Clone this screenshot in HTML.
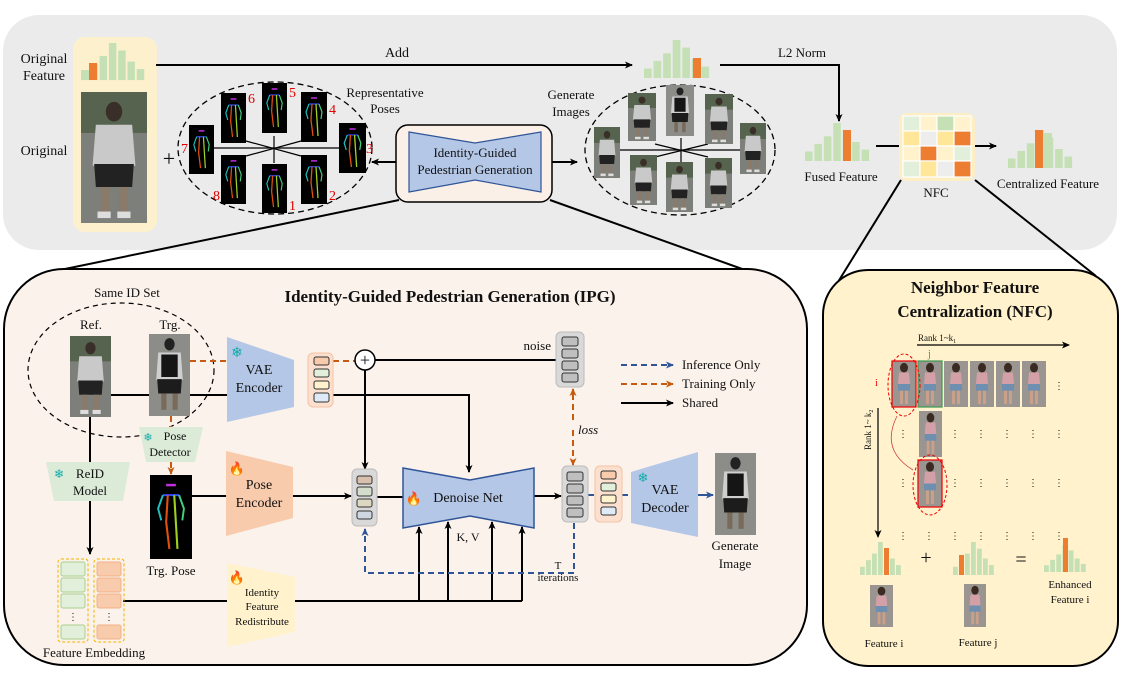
<!DOCTYPE html>
<html><head><meta charset="utf-8"><style>
html,body{margin:0;padding:0;background:#fff;}
svg{display:block;}
text{font-family:"Liberation Serif",serif;fill:#111;}
</style></head><body>
<svg width="1123" height="695" viewBox="0 0 1123 695" xmlns="http://www.w3.org/2000/svg">
<defs>
<marker id="ab" markerWidth="8" markerHeight="8" refX="7" refY="4" orient="auto" markerUnits="userSpaceOnUse"><path d="M0,0.5 L8,4 L0,7.5 L2,4 z" fill="#000"/></marker>
<marker id="ao" markerWidth="8" markerHeight="8" refX="7" refY="4" orient="auto" markerUnits="userSpaceOnUse"><path d="M0,0.5 L8,4 L0,7.5 L2,4 z" fill="#c55a11"/></marker>
<marker id="au" markerWidth="8" markerHeight="8" refX="7" refY="4" orient="auto" markerUnits="userSpaceOnUse"><path d="M0,0.5 L8,4 L0,7.5 L2,4 z" fill="#2f5597"/></marker>
<symbol id="man" viewBox="0 0 40 80" preserveAspectRatio="none">
<rect width="40" height="80" fill="#7d7f7a"/><rect width="40" height="25" fill="#56634e"/>
<ellipse cx="20" cy="12" rx="5" ry="6" fill="#3a2e28"/>
<path d="M9,20 L31,20 L33,45 L7,45z" fill="#c9c9c9"/>
<path d="M8,44 L32,44 L31,58 L9,58z" fill="#222"/>
<rect x="12" y="58" width="5" height="16" fill="#8a7a6a"/><rect x="23" y="58" width="5" height="16" fill="#8a7a6a"/>
<rect x="10" y="73" width="8" height="4" fill="#ddd"/><rect x="22" y="73" width="8" height="4" fill="#ddd"/>
</symbol>
<symbol id="back" viewBox="0 0 40 80" preserveAspectRatio="none">
<rect width="40" height="80" fill="#8c8c88"/>
<ellipse cx="20" cy="10" rx="5" ry="6" fill="#222"/>
<path d="M9,18 L31,18 L33,45 L7,45z" fill="#cfcfcf"/><path d="M12,20 L28,20 L28,42 L12,42z" fill="#151515"/>
<path d="M8,44 L32,44 L31,58 L9,58z" fill="#1c1c1c"/>
<rect x="12" y="58" width="5" height="16" fill="#7a6a5a"/><rect x="23" y="58" width="5" height="16" fill="#7a6a5a"/>
</symbol>
<symbol id="girl" viewBox="0 0 24 48" preserveAspectRatio="none">
<rect width="24" height="48" fill="#9a9590"/>
<ellipse cx="12" cy="7" rx="4" ry="5" fill="#3a2a22"/>
<path d="M7,12 L17,12 L18,24 L6,24z" fill="#d4a0a8"/>
<path d="M6,24 L18,24 L18,31 L6,31z" fill="#6f8fb0"/>
<rect x="8" y="31" width="3" height="14" fill="#c9a08a"/><rect x="13" y="31" width="3" height="14" fill="#c9a08a"/>
</symbol>
<symbol id="pose" viewBox="0 0 26 50" preserveAspectRatio="none">
<rect width="26" height="50" fill="#000"/>
<path d="M10,6 L16,6" stroke="#c030e0" stroke-width="1.5"/>
<path d="M8,12 L18,12" stroke="#3050ff" stroke-width="1.2"/>
<path d="M8,12 L5,20 L7,27" stroke="#20c0c0" stroke-width="1.2" fill="none"/>
<path d="M18,12 L21,20 L20,27" stroke="#40d080" stroke-width="1.2" fill="none"/>
<path d="M11,12 L10,28 L12,44" stroke="#e05010" stroke-width="1.3" fill="none"/>
<path d="M15,12 L16,28 L17,44" stroke="#a0d020" stroke-width="1.3" fill="none"/>
</symbol>
<symbol id="hist" viewBox="0 0 70 40" preserveAspectRatio="none">
<rect x="0" y="30" width="8" height="10" fill="#c5e0b4"/><rect x="10" y="22" width="8" height="18" fill="#c5e0b4"/><rect x="20" y="14" width="8" height="26" fill="#c5e0b4"/><rect x="30" y="0" width="8" height="40" fill="#c5e0b4"/><rect x="40" y="8" width="8" height="32" fill="#c5e0b4"/><rect x="50" y="20" width="8" height="20" fill="#c5e0b4"/><rect x="60" y="28" width="8" height="12" fill="#c5e0b4"/>
</symbol>
</defs>

<!-- Top panel -->
<rect x="3" y="15" width="1114" height="235" rx="36" fill="#ebebeb"/>
<rect x="73" y="37" width="84" height="195" rx="12" fill="#fdf0cc"/>
<g transform="translate(81,43) scale(0.93,0.93)"><use href="#hist" width="70" height="40"/></g>
<rect x="89" y="63" width="8" height="17" fill="#ed7d31"/>
<rect x="81" y="70" width="8" height="10" fill="#c5e0b4"/>
<use href="#man" x="81" y="92" width="66" height="131"/>
<text x="44" y="63" font-size="14" text-anchor="middle">Original</text>
<text x="44" y="80" font-size="14" text-anchor="middle">Feature</text>
<text x="44" y="155" font-size="14" text-anchor="middle">Original</text>
<line x1="156" y1="65" x2="632" y2="65" stroke="#000" stroke-width="2" marker-end="url(#ab)"/>
<text x="397" y="57" font-size="14" text-anchor="middle">Add</text>
<text x="169" y="166" font-size="22" text-anchor="middle">+</text>

<!-- poses ellipse -->
<ellipse cx="275" cy="148" rx="97" ry="66" fill="none" stroke="#000" stroke-width="1.3" stroke-dasharray="6,4"/>
<g stroke="#000" stroke-width="1.2"><line x1="214" y1="148" x2="339" y2="148"/><line x1="274" y1="136" x2="274" y2="163"/><line x1="246" y1="141" x2="301" y2="156"/><line x1="246" y1="156" x2="301" y2="141"/></g>
<use href="#pose" x="221" y="93" width="25" height="50"/>
<use href="#pose" x="262" y="83" width="25" height="50"/>
<use href="#pose" x="301" y="92" width="26" height="50"/>
<use href="#pose" x="189" y="125" width="25" height="49"/>
<use href="#pose" x="339" y="123" width="27" height="50"/>
<use href="#pose" x="221" y="155" width="25" height="49"/>
<use href="#pose" x="262" y="164" width="25" height="49"/>
<use href="#pose" x="301" y="155" width="26" height="49"/>
<g font-size="14" fill="#e00000" style="fill:#e00000">
<text x="248" y="103" style="fill:#e00000">6</text><text x="289" y="97" style="fill:#e00000">5</text><text x="329" y="114" style="fill:#e00000">4</text><text x="181" y="153" style="fill:#e00000">7</text><text x="366" y="153" style="fill:#e00000">3</text><text x="213" y="200" style="fill:#e00000">8</text><text x="289" y="210" style="fill:#e00000">1</text><text x="329" y="200" style="fill:#e00000">2</text></g>
<text x="385" y="97" font-size="13" text-anchor="middle">Representative</text>
<text x="385" y="113" font-size="13" text-anchor="middle">Poses</text>

<!-- IPG box -->
<rect x="396" y="125" width="156" height="77" rx="12" fill="#faf0e8" stroke="#000" stroke-width="1.5"/>
<path d="M409,132 L475,143 L541,132 L541,192 L475,180 L409,192z" fill="#b4c7e7" stroke="#2f5597" stroke-width="1.2"/>
<text x="475" y="157" font-size="13" text-anchor="middle">Identity-Guided</text>
<text x="475" y="174" font-size="13" text-anchor="middle">Pedestrian Generation</text>
<line x1="396" y1="162" x2="372" y2="162" stroke="#000" stroke-width="2" marker-end="url(#ab)"/>
<line x1="552" y1="162" x2="577" y2="162" stroke="#000" stroke-width="2" marker-end="url(#ab)"/>

<!-- generated ellipse -->
<ellipse cx="680" cy="150" rx="95" ry="65" fill="none" stroke="#000" stroke-width="1.3" stroke-dasharray="6,4"/>
<g stroke="#000" stroke-width="1.2"><line x1="620" y1="150" x2="740" y2="150"/><line x1="681" y1="138" x2="681" y2="163"/><line x1="655" y1="144" x2="708" y2="157"/><line x1="655" y1="157" x2="708" y2="144"/></g>
<use href="#man" x="628" y="93" width="28" height="48"/>
<use href="#back" x="666" y="85" width="28" height="51"/>
<use href="#man" x="705" y="94" width="28" height="50"/>
<use href="#man" x="594" y="127" width="26" height="51"/>
<use href="#man" x="740" y="123" width="26" height="51"/>
<use href="#man" x="630" y="155" width="27" height="50"/>
<use href="#man" x="666" y="162" width="27" height="50"/>
<use href="#man" x="705" y="158" width="27" height="50"/>
<text x="571" y="99" font-size="13" text-anchor="middle">Generate</text>
<text x="571" y="116" font-size="13" text-anchor="middle">Images</text>

<!-- mid hist -->
<use href="#hist" x="644" y="40" width="67" height="38"/>
<rect x="693" y="58" width="8" height="20" fill="#ed7d31"/>
<path d="M720,65 L839,65 L839,121" fill="none" stroke="#000" stroke-width="2" marker-end="url(#ab)"/>
<text x="802" y="57" font-size="13" text-anchor="middle">L2 Norm</text>
<!-- fused -->
<use href="#hist" x="805" y="123" width="66" height="38"/>
<rect x="843" y="130" width="8" height="31" fill="#ed7d31"/>
<text x="841" y="181" font-size="13" text-anchor="middle">Fused Feature</text>
<line x1="876" y1="146" x2="900" y2="146" stroke="#000" stroke-width="2"/>
<!-- NFC matrix -->
<rect x="899" y="113" width="76" height="68" rx="8" fill="#fdeec4"/>
<g stroke="#fff" stroke-width="1.2">
<rect x="903" y="116" width="17" height="15" fill="#e2efda"/><rect x="920" y="116" width="17" height="15" fill="#fff2cc"/><rect x="937" y="116" width="17" height="15" fill="#c5e0b4"/><rect x="954" y="116" width="17" height="15" fill="#fff2cc"/>
<rect x="903" y="131" width="17" height="15" fill="#ffe699"/><rect x="920" y="131" width="17" height="15" fill="#ededed"/><rect x="937" y="131" width="17" height="15" fill="#ffe699"/><rect x="954" y="131" width="17" height="15" fill="#ed7d31"/>
<rect x="903" y="146" width="17" height="15" fill="#fff2cc"/><rect x="920" y="146" width="17" height="15" fill="#ed7d31"/><rect x="937" y="146" width="17" height="15" fill="#fff2cc"/><rect x="954" y="146" width="17" height="15" fill="#e2efda"/>
<rect x="903" y="161" width="17" height="16" fill="#e2efda"/><rect x="920" y="161" width="17" height="16" fill="#ffe699"/><rect x="937" y="161" width="17" height="16" fill="#ededed"/><rect x="954" y="161" width="17" height="16" fill="#ed7d31"/></g>
<text x="936" y="197" font-size="13" text-anchor="middle">NFC</text>
<line x1="975" y1="146" x2="996" y2="146" stroke="#000" stroke-width="2" marker-end="url(#ab)"/>
<use href="#hist" x="1008" y="130" width="66" height="38"/>
<rect x="1035" y="130" width="8" height="38" fill="#ed7d31"/>
<rect x="1044" y="133" width="8" height="35" fill="#c5e0b4"/>
<text x="1048" y="188" font-size="13" text-anchor="middle">Centralized Feature</text>

<!-- zoom lines -->
<g stroke="#000" stroke-width="2">
<line x1="399" y1="200" x2="60" y2="270"/>
<line x1="550" y1="200" x2="745" y2="270"/>
<line x1="901" y1="180" x2="838" y2="282"/>
<line x1="975" y1="180" x2="1096" y2="276"/>
</g>

<!-- IPG panel -->
<rect x="4" y="269" width="803" height="396" rx="60" fill="#fbf2ec" stroke="#000" stroke-width="2"/>
<text x="450" y="302" font-size="17" font-weight="bold" text-anchor="middle">Identity-Guided Pedestrian Generation (IPG)</text>
<text x="127" y="297" font-size="13" text-anchor="middle">Same ID Set</text>
<ellipse cx="121" cy="370" rx="93" ry="67" fill="none" stroke="#000" stroke-width="1.2" stroke-dasharray="5,4"/>
<text x="91" y="329" font-size="13" text-anchor="middle">Ref.</text>
<text x="170" y="329" font-size="13" text-anchor="middle">Trg.</text>
<use href="#man" x="70" y="336" width="41" height="81"/>
<use href="#back" x="149" y="334" width="41" height="82"/>

<!-- black shared lines -->
<g stroke="#000" stroke-width="2" fill="none">
<line x1="111" y1="395" x2="149" y2="395"/>
<line x1="190" y1="395" x2="227" y2="395"/>
<path d="M333,395 L469,395 L469,472" marker-end="url(#ab)"/>
<line x1="375" y1="360" x2="556" y2="360"/>
<line x1="365" y1="370" x2="365" y2="469" marker-end="url(#ab)"/>
<line x1="90" y1="417" x2="90" y2="462"/>
<line x1="90" y1="501" x2="90" y2="554" marker-end="url(#ab)"/>
<line x1="192" y1="496" x2="227" y2="496"/>
<line x1="293" y1="496" x2="351" y2="496" marker-end="url(#ab)"/>
<line x1="377" y1="497" x2="403" y2="497"/>
<line x1="534" y1="496" x2="561" y2="496" marker-end="url(#ab)"/>
<line x1="123" y1="601" x2="227" y2="601"/>
<line x1="295" y1="601" x2="522" y2="601"/>
<line x1="419" y1="601" x2="419" y2="527" marker-end="url(#ab)"/>
<line x1="448" y1="601" x2="448" y2="522" marker-end="url(#ab)"/>
<line x1="492" y1="601" x2="492" y2="522" marker-end="url(#ab)"/>
<line x1="522" y1="601" x2="522" y2="527" marker-end="url(#ab)"/>
</g>
<!-- orange dashed -->
<g stroke="#c55a11" stroke-width="2" fill="none" stroke-dasharray="6,4">
<line x1="190" y1="361" x2="227" y2="361"/>
<line x1="333" y1="361" x2="355" y2="361"/>
<line x1="171" y1="416" x2="171" y2="427"/>
<line x1="171" y1="462" x2="171" y2="474" marker-end="url(#ao)"/>
<line x1="573" y1="420" x2="573" y2="389" marker-end="url(#ao)"/>
<line x1="573" y1="430" x2="573" y2="465" marker-end="url(#ao)"/>
</g>
<!-- blue dashed -->
<g stroke="#2f5597" stroke-width="2" fill="none" stroke-dasharray="6,4">
<path d="M574,523 L574,573 L365,573 L365,529" marker-end="url(#au)"/>
<line x1="588" y1="495" x2="595" y2="495"/>
<line x1="622" y1="495" x2="631" y2="495"/>
</g>
<line x1="698" y1="495" x2="713" y2="495" stroke="#2f5597" stroke-width="2" marker-end="url(#au)"/>

<!-- VAE encoder -->
<path d="M227,337 L294,360 L294,407 L227,422z" fill="#b4c7e7"/>
<text x="237" y="357" font-size="14" text-anchor="middle" style="fill:#1aa">❄</text>
<text x="259" y="374" font-size="14" text-anchor="middle">VAE</text>
<text x="259" y="392" font-size="14" text-anchor="middle">Encoder</text>
<!-- latent -->
<rect x="308" y="353" width="25" height="54" rx="5" fill="#fbe0cf" stroke="#f4c2a0"/>
<g stroke="#333" stroke-width="1">
<rect x="314" y="357" width="15" height="8" rx="2" fill="#f8cbad"/><rect x="314" y="369" width="15" height="8" rx="2" fill="#e2efda"/><rect x="314" y="381" width="15" height="8" rx="2" fill="#fff2cc"/><rect x="314" y="393" width="15" height="9" rx="2" fill="#deebf7"/></g>
<circle cx="365" cy="360" r="10" fill="#fff" stroke="#000" stroke-width="1.5"/>
<text x="365" y="366" font-size="18" text-anchor="middle">+</text>
<!-- noise -->
<rect x="556" y="332" width="28" height="55" rx="5" fill="#d9d9d9" stroke="#bbb"/>
<g stroke="#333" fill="#bfbfbf"><rect x="562" y="337" width="16" height="9" rx="2"/><rect x="562" y="349" width="16" height="9" rx="2"/><rect x="562" y="361" width="16" height="9" rx="2"/><rect x="562" y="373" width="16" height="9" rx="2"/></g>
<text x="551" y="350" font-size="13" text-anchor="end">noise</text>
<text x="578" y="434" font-size="13" font-style="italic">loss</text>

<!-- pose detector -->
<path d="M139,427 L203,427 L195,462 L146,462z" fill="#dcebd8"/>
<text x="148" y="441" font-size="11" text-anchor="middle" style="fill:#1aa">❄</text>
<text x="175" y="440" font-size="12" text-anchor="middle">Pose</text>
<text x="170" y="456" font-size="12" text-anchor="middle">Detector</text>
<use href="#pose" x="150" y="475" width="42" height="84"/>
<text x="171" y="575" font-size="13" text-anchor="middle">Trg. Pose</text>

<!-- pose encoder -->
<path d="M226,451 L293,467 L293,518 L226,536z" fill="#f8cbad"/>
<text x="237" y="473" font-size="13" text-anchor="middle">🔥</text>
<text x="259" y="489" font-size="14" text-anchor="middle">Pose</text>
<text x="259" y="507" font-size="14" text-anchor="middle">Encoder</text>

<!-- ReID -->
<path d="M46,462 L130,462 L123,501 L54,501z" fill="#dcebd8"/>
<text x="59" y="478" font-size="12" text-anchor="middle" style="fill:#1aa">❄</text>
<text x="90" y="478" font-size="13" text-anchor="middle">ReID</text>
<text x="90" y="495" font-size="13" text-anchor="middle">Model</text>

<!-- feature embedding -->
<rect x="58" y="559" width="30" height="83" rx="3" fill="none" stroke="#f4b400" stroke-dasharray="3,2"/>
<rect x="94" y="559" width="30" height="83" rx="3" fill="none" stroke="#f4b400" stroke-dasharray="3,2"/>
<g fill="#e2efda" stroke="#a9d08e"><rect x="61" y="562" width="24" height="14" rx="2"/><rect x="61" y="578" width="24" height="14" rx="2"/><rect x="61" y="594" width="24" height="14" rx="2"/><rect x="61" y="625" width="24" height="14" rx="2"/></g>
<g fill="#f8cbad" stroke="#f4b183"><rect x="97" y="562" width="24" height="14" rx="2"/><rect x="97" y="578" width="24" height="14" rx="2"/><rect x="97" y="594" width="24" height="14" rx="2"/><rect x="97" y="625" width="24" height="14" rx="2"/></g>
<text x="73" y="620" font-size="10" text-anchor="middle">⋮</text><text x="109" y="620" font-size="10" text-anchor="middle">⋮</text>
<text x="94" y="657" font-size="13" text-anchor="middle">Feature Embedding</text>

<!-- IFR -->
<path d="M227,563 L295,577 L295,632 L227,647z" fill="#fff2cc"/>
<text x="237" y="582" font-size="13" text-anchor="middle">🔥</text>
<text x="262" y="596" font-size="11" text-anchor="middle">Identity</text>
<text x="262" y="610" font-size="11" text-anchor="middle">Feature</text>
<text x="262" y="625" font-size="11" text-anchor="middle">Redistribute</text>

<!-- concat -->
<rect x="352" y="469" width="25" height="57" rx="5" fill="#d9d9d9" stroke="#bbb"/>
<g stroke="#333"><rect x="357" y="476" width="15" height="8" rx="2" fill="#d9bfae"/><rect x="357" y="487" width="15" height="9" rx="2" fill="#d4dccb"/><rect x="357" y="499" width="15" height="8" rx="2" fill="#dcd8c2"/><rect x="357" y="511" width="15" height="8" rx="2" fill="#cfd8e0"/></g>

<!-- denoise -->
<path d="M403,468 L470,480 L534,468 L534,528 L470,516 L403,528z" fill="#b4c7e7" stroke="#2f5597" stroke-width="1.5"/>
<text x="414" y="503" font-size="13" text-anchor="middle">🔥</text>
<text x="468" y="502" font-size="14" text-anchor="middle">Denoise Net</text>
<text x="468" y="541" font-size="12" text-anchor="middle">K, V</text>
<text x="558" y="569" font-size="11" text-anchor="middle">T</text>
<text x="558" y="581" font-size="11" text-anchor="middle">iterations</text>

<!-- output -->
<rect x="562" y="466" width="26" height="56" rx="5" fill="#d9d9d9" stroke="#bbb"/>
<g stroke="#333" fill="#bfbfbf"><rect x="567" y="472" width="16" height="9" rx="2"/><rect x="567" y="484" width="16" height="9" rx="2"/><rect x="567" y="496" width="16" height="9" rx="2"/><rect x="567" y="508" width="16" height="9" rx="2"/></g>
<rect x="595" y="466" width="27" height="56" rx="5" fill="#fbe0cf" stroke="#f4c2a0"/>
<g stroke="#333"><rect x="601" y="471" width="15" height="8" rx="2" fill="#f8cbad"/><rect x="601" y="483" width="15" height="8" rx="2" fill="#e2efda"/><rect x="601" y="495" width="15" height="8" rx="2" fill="#fff2cc"/><rect x="601" y="507" width="15" height="8" rx="2" fill="#deebf7"/></g>

<!-- VAE decoder -->
<path d="M631,472 L698,452 L698,537 L631,523z" fill="#b4c7e7"/>
<text x="643" y="482" font-size="13" text-anchor="middle" style="fill:#1aa">❄</text>
<text x="665" y="494" font-size="14" text-anchor="middle">VAE</text>
<text x="665" y="512" font-size="14" text-anchor="middle">Decoder</text>
<use href="#back" x="715" y="453" width="41" height="82"/>
<text x="735" y="550" font-size="13" text-anchor="middle">Generate</text>
<text x="735" y="568" font-size="13" text-anchor="middle">Image</text>

<!-- legend -->
<line x1="621" y1="365" x2="673" y2="365" stroke="#2f5597" stroke-width="2" stroke-dasharray="6,4" marker-end="url(#au)"/>
<line x1="621" y1="384" x2="673" y2="384" stroke="#c55a11" stroke-width="2" stroke-dasharray="6,4" marker-end="url(#ao)"/>
<line x1="621" y1="403" x2="673" y2="403" stroke="#000" stroke-width="2" marker-end="url(#ab)"/>
<text x="682" y="369" font-size="13">Inference Only</text>
<text x="682" y="388" font-size="13">Training Only</text>
<text x="682" y="407" font-size="13">Shared</text>

<!-- NFC panel -->
<rect x="823" y="270" width="295" height="396" rx="45" fill="#fff2cc" stroke="#000" stroke-width="2"/>
<text x="975" y="293" font-size="17" font-weight="bold" text-anchor="middle">Neighbor Feature</text>
<text x="975" y="317" font-size="17" font-weight="bold" text-anchor="middle">Centralization (NFC)</text>
<text x="918" y="341" font-size="9">Rank 1~k<tspan font-size="6" dy="2">1</tspan></text>
<line x1="917" y1="345" x2="1069" y2="345" stroke="#000" stroke-width="1.2" marker-end="url(#ab)"/>
<use href="#girl" x="892" y="361" width="24" height="46"/>
<use href="#girl" x="918" y="361" width="24" height="46"/>
<use href="#girl" x="944" y="361" width="24" height="46"/>
<use href="#girl" x="970" y="361" width="24" height="46"/>
<use href="#girl" x="996" y="361" width="24" height="46"/>
<use href="#girl" x="1022" y="361" width="24" height="46"/>
<rect x="892" y="361" width="24" height="46" fill="none" stroke="#e00" stroke-width="1.2"/>
<rect x="918" y="361" width="24" height="46" fill="none" stroke="#3a9a50" stroke-width="1.2"/>
<use href="#girl" x="919" y="411" width="23" height="46"/>
<use href="#girl" x="918" y="460" width="24" height="47"/>
<rect x="918" y="460" width="24" height="47" fill="none" stroke="#e00" stroke-width="1.2"/>
<ellipse cx="904" cy="385" rx="16" ry="31" fill="none" stroke="#e00" stroke-dasharray="3,2"/>
<ellipse cx="930" cy="485" rx="17" ry="30" fill="none" stroke="#e00" stroke-dasharray="3,2"/>
<path d="M897,416 Q880,450 913,470" fill="none" stroke="#c44" stroke-width="0.8"/>
<text x="875" y="386" font-size="10" style="fill:#e00">i</text>
<text x="928" y="357" font-size="10" style="fill:#3a9a50">j</text>
<line x1="878" y1="408" x2="878" y2="537" stroke="#000" stroke-width="1.2" marker-end="url(#ab)"/>
<text transform="translate(871,450) rotate(-90)" font-size="9">Rank 1~ k<tspan font-size="6" dy="2">2</tspan></text>
<g font-size="10" text-anchor="middle">
<text x="1059" y="389">⋮</text>
<text x="903" y="437">⋮</text><text x="955" y="437">⋮</text><text x="981" y="437">⋮</text><text x="1007" y="437">⋮</text><text x="1033" y="437">⋮</text><text x="1059" y="437">⋮</text>
<text x="903" y="486">⋮</text><text x="955" y="486">⋮</text><text x="981" y="486">⋮</text><text x="1007" y="486">⋮</text><text x="1033" y="486">⋮</text><text x="1059" y="486">⋮</text>
<text x="903" y="539">⋮</text><text x="929" y="539">⋮</text><text x="955" y="539">⋮</text><text x="981" y="539">⋮</text><text x="1007" y="539">⋮</text><text x="1033" y="539">⋮</text><text x="1059" y="539">⋮</text>
</g>
<use href="#hist" x="860" y="542" width="42" height="33"/>
<rect x="884" y="548" width="5" height="27" fill="#ed7d31"/>
<text x="926" y="564" font-size="20" text-anchor="middle">+</text>
<use href="#hist" x="953" y="542" width="42" height="33"/>
<rect x="959" y="555" width="5" height="20" fill="#ed7d31"/>
<text x="1021" y="566" font-size="20" text-anchor="middle">=</text>
<use href="#hist" x="1044" y="545" width="43" height="27"/>
<rect x="1063" y="538" width="5" height="34" fill="#ed7d31"/>
<text x="1070" y="588" font-size="11" text-anchor="middle">Enhanced</text>
<text x="1070" y="603" font-size="11" text-anchor="middle">Feature i</text>
<use href="#girl" x="870" y="585" width="23" height="42"/>
<use href="#girl" x="964" y="584" width="22" height="43"/>
<text x="884" y="647" font-size="11" text-anchor="middle">Feature i</text>
<text x="978" y="646" font-size="11" text-anchor="middle">Feature j</text>
</svg>
</body></html>
